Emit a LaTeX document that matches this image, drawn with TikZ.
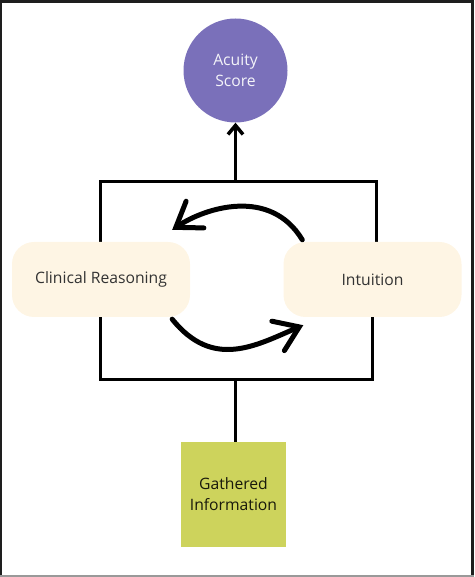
\documentclass[tikz,border=0pt]{standalone}
\usepackage{fontspec}
\setmainfont{Open Sans}
\usetikzlibrary{positioning,arrows.meta}
\definecolor{paars}{RGB}{122,112,186}
\definecolor{room}{RGB}{254,245,228}
\definecolor{groen}{RGB}{205,211,92}
\definecolor{rand}{RGB}{30,30,30}

\begin{document}
\begin{tikzpicture}[x=1pt, y=1pt, >={Straight Barb[length=9pt,width=15pt]},
  tekst/.style={font=\fontsize{15.7}{21}\selectfont, align=center},
  kussen/.style={tekst, fill=room, rounded corners=22pt, minimum width=178pt,
    minimum height=75pt, text=black!80},
  pijl/.style={line width=5pt, line cap=round,
    -{Straight Barb[length=23pt,width=32pt,line cap=round]}}]
  \useasboundingbox (0,0) rectangle (474,577);

  % kader
  \fill[rand] (0,574) rectangle (474,577);
  \fill[rand] (0,0) rectangle (2,577);
  \fill[rand] (471,0) rectangle (474,577);
  \fill[black!40] (0,0) rectangle (474,2);

  % middenblok
  \draw[line width=3pt] (100,300) -- (100,395) -- (376,395) -- (376,300);
  \draw[line width=3pt] (100,300) -- (100,197) -- (372,197) -- (372,300);
  \coordinate (boven) at (235.5,395);
  \coordinate (onder) at (235.5,197);

  % knopen
  \node[kussen] (reden) at (101,297.5) {Clinical Reasoning};
  \node[kussen] (intuitie) at (372.5,297.5) {Intuition};
  \node[tekst, circle, fill=paars, minimum size=104pt, text=white!92!paars]
    (score) at (235.5,506.5) {Acuity\\Score};
  \node[tekst, fill=groen, minimum size=105pt, text=black!88!groen]
    (info) at (233.5,82.5) {Gathered\\Information};

  % verbindingen
  \draw[line width=3.5pt, ->] (boven) -- (score.south);
  \draw[line width=3.5pt] (onder) -- (onder |- info.north);

  % kringloop
  \draw[pijl] ([shift={(19,2)}]intuitie.north west)
    .. controls +(-32,53) and +(33,22) .. ([shift={(-18,12)}]reden.north east);
  \draw[pijl] ([shift={(-18,-2)}]reden.south east)
    .. controls +(41,-51) and +(-47,-20) .. ([shift={(20,-8)}]intuitie.south west);
\end{tikzpicture}
\end{document}
